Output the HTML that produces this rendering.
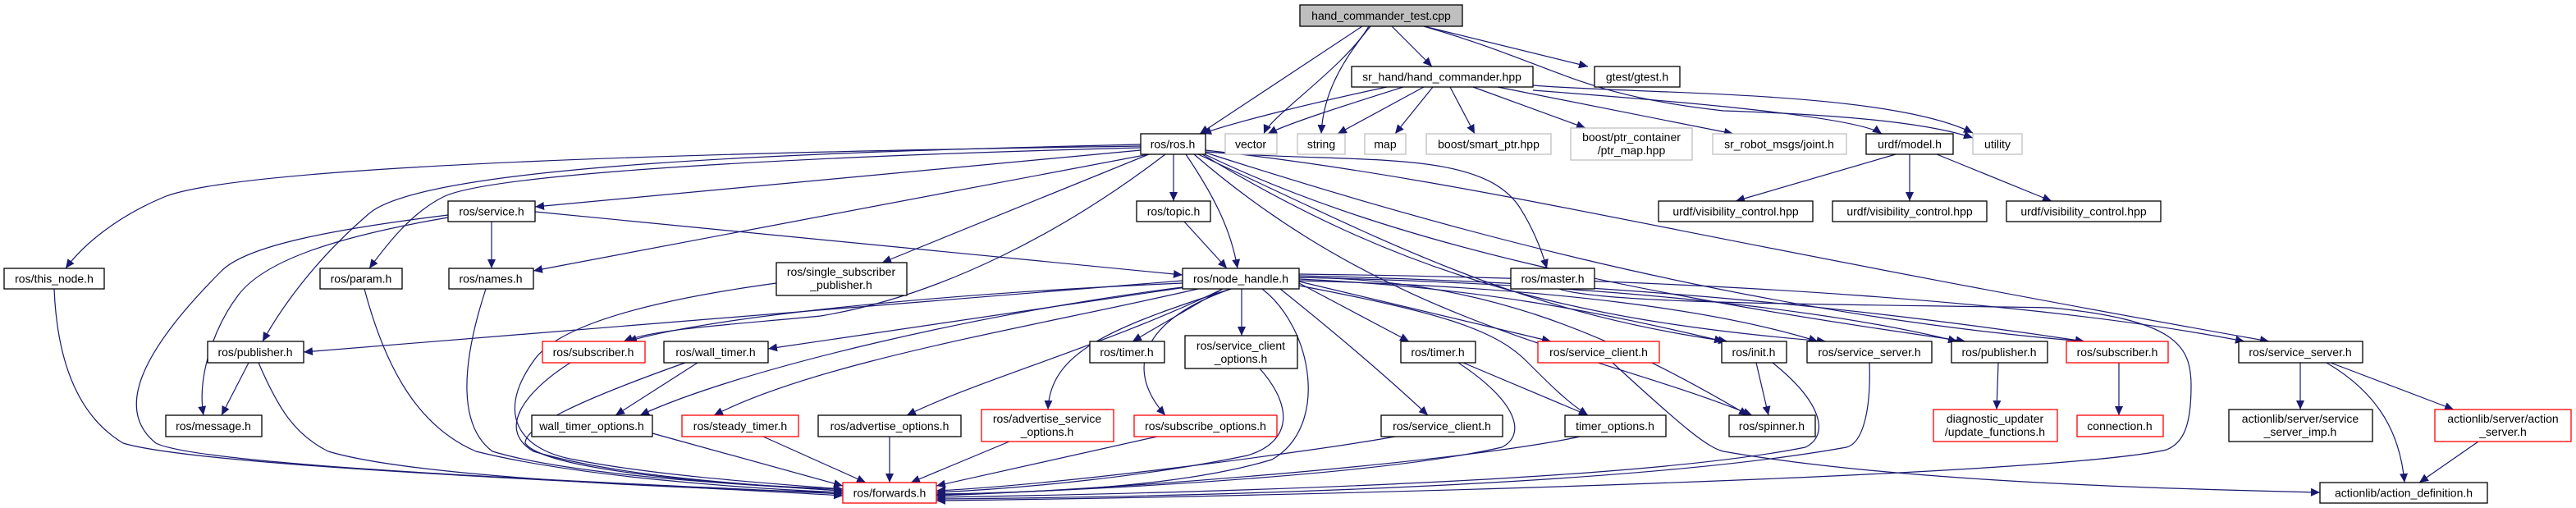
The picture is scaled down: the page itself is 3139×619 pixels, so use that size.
<!DOCTYPE html>
<html><head><meta charset="utf-8"><style>
html,body{margin:0;padding:0;background:#fff;}
svg{display:block}
text{font-family:"Liberation Sans",sans-serif;font-size:14px;fill:#000;text-anchor:middle;dominant-baseline:central}
.b{fill:#fff;stroke:#000;stroke-width:1.3}
.g{fill:#fff;stroke:#bfbfbf;stroke-width:1.3}
.r{fill:#fff;stroke:#ff0000;stroke-width:1.3}
.t{fill:#bfbfbf;stroke:#000;stroke-width:1.3}
path.e{fill:none;stroke:#191970;stroke-width:1.2;marker-end:url(#a)}
</style></head><body>
<svg width="3139" height="619" viewBox="0 0 3139 619" xmlns="http://www.w3.org/2000/svg">
<defs><marker id="a" markerUnits="userSpaceOnUse" markerWidth="12" markerHeight="10" refX="11" refY="5" orient="auto"><path d="M0,0 L11,5 L0,10 z" fill="#191970"/></marker></defs>
<g>
<path class="e" d="M1660,32 L1462,163"/>
<path class="e" d="M1668,32 C1640,80 1550,140 1540,163"/>
<path class="e" d="M1670,32 C1630,80 1612,120 1610,163"/>
<path class="e" d="M1696,32 L1745,81"/>
<path class="e" d="M1735,32 L1935,81"/>
<path class="e" d="M1735,32 C1900,80 1920,115 2100,135 C2250,140 2350,150 2404,168"/>
<path class="e" d="M1690,106 C1600,125 1500,150 1465,163"/>
<path class="e" d="M1710,106 C1650,125 1570,150 1545,163"/>
<path class="e" d="M1735,106 L1630,163"/>
<path class="e" d="M1746,106 L1700,163"/>
<path class="e" d="M1767,106 L1797,163"/>
<path class="e" d="M1795,106 L1932,156"/>
<path class="e" d="M1825,106 L2112,163"/>
<path class="e" d="M1868,110 C2000,120 2260,140 2293,163"/>
<path class="e" d="M1868,104 C2000,115 2300,110 2404,162"/>
<path class="e" d="M1390,178 C900,185 300,200 200,240 C140,265 100,300 80,327"/>
<path class="e" d="M1390,183 L652,252"/>
<path class="e" d="M1390,180 C1000,190 600,210 540,240 C500,260 470,300 450,327"/>
<path class="e" d="M1400,188 L650,330"/>
<path class="e" d="M1390,176 C1000,185 520,200 450,260 C380,320 340,380 320,416"/>
<path class="e" d="M1420,188 C1300,280 1150,360 1000,385 C900,395 800,400 760,416"/>
<path class="e" d="M1400,188 L1075,320"/>
<path class="e" d="M1430,188 L1430,245"/>
<path class="e" d="M1445,188 C1480,240 1500,280 1508,327"/>
<path class="e" d="M1470,185 C1650,200 1800,180 1850,250 C1870,280 1880,310 1885,327"/>
<path class="e" d="M1460,188 C1700,300 1850,380 2105,416"/>
<path class="e" d="M1455,188 C1700,400 1950,430 2135,506"/>
<path class="e" d="M1465,188 C1700,330 1900,390 2225,416"/>
<path class="e" d="M1468,188 C1700,300 2000,360 2395,416"/>
<path class="e" d="M1469,186 C1700,260 2100,380 2540,416"/>
<path class="e" d="M1469,183 C1800,220 2000,280 2765,416"/>
<path class="e" d="M599,270 L599,327"/>
<path class="e" d="M652,258 L1441,335"/>
<path class="e" d="M546,265 C400,290 320,320 290,360 C260,400 240,460 248,506"/>
<path class="e" d="M546,262 C400,280 300,300 270,330 C170,430 140,500 190,540 C250,570 800,590 1027,602"/>
<path class="e" d="M66,352 C70,450 100,510 150,540 C250,570 800,590 1027,604"/>
<path class="e" d="M444,352 C470,450 510,520 580,550 C700,580 900,595 1027,600"/>
<path class="e" d="M592,352 C560,450 560,520 600,550 C700,580 900,590 1027,598"/>
<path class="e" d="M303,442 L270,506"/>
<path class="e" d="M315,442 C340,500 360,530 400,550 C500,580 800,595 1027,600"/>
<path class="e" d="M695,442 C650,470 600,520 650,550 C750,580 900,590 1027,598"/>
<path class="e" d="M946,345 C800,365 680,395 650,440 C600,510 640,550 700,560 C800,580 950,590 1027,596"/>
<path class="e" d="M1443,270 L1495,327"/>
<path class="e" d="M1441,342 L370,429"/>
<path class="e" d="M1441,345 C1100,360 850,390 765,416"/>
<path class="e" d="M1445,350 L936,425"/>
<path class="e" d="M1460,352 C1250,400 1000,440 870,506"/>
<path class="e" d="M1490,352 C1350,420 1200,460 1105,506"/>
<path class="e" d="M1500,352 C1350,400 1280,430 1277,499"/>
<path class="e" d="M1500,352 C1390,390 1370,450 1420,506"/>
<path class="e" d="M1490,352 L1380,416"/>
<path class="e" d="M1513,352 L1513,409"/>
<path class="e" d="M1538,352 C1600,400 1620,520 1550,560 C1450,590 1300,600 1141,602"/>
<path class="e" d="M1560,352 C1620,400 1680,450 1740,506"/>
<path class="e" d="M1583,345 L1717,416"/>
<path class="e" d="M1583,348 C1750,380 1820,400 1860,440 C1890,470 1910,490 1935,506"/>
<path class="e" d="M1583,343 L1890,416"/>
<path class="e" d="M1583,340 C1800,350 1950,380 2100,416"/>
<path class="e" d="M1583,338 C1800,340 1950,400 2130,506"/>
<path class="e" d="M1583,342 C1900,350 2100,380 2215,416"/>
<path class="e" d="M1583,338 C1900,345 2200,370 2385,416"/>
<path class="e" d="M1583,336 C2000,345 2300,380 2540,416"/>
<path class="e" d="M1583,334 C2100,340 2500,370 2735,416"/>
<path class="e" d="M1441,350 C1200,380 900,450 780,506"/>
<path class="e" d="M850,442 L750,506"/>
<path class="e" d="M835,442 C700,490 640,520 640,540 C660,570 850,590 1027,596"/>
<path class="e" d="M795,528 L1027,592"/>
<path class="e" d="M930,532 L1055,588"/>
<path class="e" d="M1084,532 L1084,588"/>
<path class="e" d="M1230,538 L1110,588"/>
<path class="e" d="M1410,532 L1141,592"/>
<path class="e" d="M1535,449 C1580,500 1570,540 1520,555 C1400,580 1250,595 1141,600"/>
<path class="e" d="M1783,442 L1935,506"/>
<path class="e" d="M1777,442 C1850,490 1860,530 1830,545 C1700,575 1400,595 1141,603"/>
<path class="e" d="M1700,532 C1600,550 1300,590 1141,598"/>
<path class="e" d="M1925,532 C1800,560 1400,595 1141,604"/>
<path class="e" d="M1965,442 C2050,520 2080,545 2100,550 C2300,585 2600,595 2827,600"/>
<path class="e" d="M2140,442 L2155,506"/>
<path class="e" d="M2160,442 C2220,490 2230,530 2200,545 C2000,585 1500,600 1141,606"/>
<path class="e" d="M2278,442 C2280,500 2270,540 2250,545 C2000,590 1500,605 1141,608"/>
<path class="e" d="M2435,442 L2433,499"/>
<path class="e" d="M2582,442 L2582,506"/>
<path class="e" d="M1900,352 C1950,370 2200,370 2500,375 C2650,390 2670,420 2670,470 C2670,520 2660,540 2640,548 C2500,580 1600,605 1141,610"/>
<path class="e" d="M2803,442 L2803,499"/>
<path class="e" d="M2835,442 C2900,480 2925,530 2930,588"/>
<path class="e" d="M2840,442 L2990,499"/>
<path class="e" d="M3020,538 L2948,588"/>
<path class="e" d="M2310,188 L2115,245"/>
<path class="e" d="M2327,188 L2327,245"/>
<path class="e" d="M2360,188 L2500,245"/>
</g>
<g>
<rect class="t" x="1584" y="6" width="198" height="26"/><text x="1683" y="19">hand_commander_test.cpp</text>
<rect class="b" x="1647" y="81" width="221" height="25"/><text x="1757" y="93.5">sr_hand/hand_commander.hpp</text>
<rect class="b" x="1943" y="81" width="104" height="25"/><text x="1995" y="93.5">gtest/gtest.h</text>
<rect class="b" x="1390" y="163" width="79" height="25"/><text x="1429" y="175.5">ros/ros.h</text>
<rect class="g" x="1493" y="163" width="63" height="25"/><text x="1524" y="175.5">vector</text>
<rect class="g" x="1581" y="163" width="58" height="25"/><text x="1610" y="175.5">string</text>
<rect class="g" x="1663" y="163" width="50" height="25"/><text x="1688" y="175.5">map</text>
<rect class="g" x="1738" y="163" width="152" height="25"/><text x="1814" y="175.5">boost/smart_ptr.hpp</text>
<rect class="g" x="1914" y="156" width="148" height="39"/><text x="1988" y="167">boost/ptr_container</text><text x="1988" y="183">/ptr_map.hpp</text>
<rect class="g" x="2087" y="163" width="163" height="25"/><text x="2168" y="175.5">sr_robot_msgs/joint.h</text>
<rect class="b" x="2274" y="163" width="106" height="25"/><text x="2327" y="175.5">urdf/model.h</text>
<rect class="g" x="2404" y="163" width="60" height="25"/><text x="2434" y="175.5">utility</text>
<rect class="b" x="546" y="245" width="106" height="25"/><text x="599" y="257.5">ros/service.h</text>
<rect class="b" x="1385" y="245" width="90" height="25"/><text x="1430" y="257.5">ros/topic.h</text>
<rect class="b" x="2021" y="245" width="188" height="25"/><text x="2115" y="257.5">urdf/visibility_control.hpp</text>
<rect class="b" x="2233" y="245" width="188" height="25"/><text x="2327" y="257.5">urdf/visibility_control.hpp</text>
<rect class="b" x="2445" y="245" width="188" height="25"/><text x="2539" y="257.5">urdf/visibility_control.hpp</text>
<rect class="b" x="5" y="327" width="122" height="25"/><text x="66" y="339.5">ros/this_node.h</text>
<rect class="b" x="390" y="327" width="100" height="25"/><text x="440" y="339.5">ros/param.h</text>
<rect class="b" x="547" y="327" width="103" height="25"/><text x="598" y="339.5">ros/names.h</text>
<rect class="b" x="946" y="320" width="159" height="40"/><text x="1025" y="331">ros/single_subscriber</text><text x="1025" y="347">_publisher.h</text>
<rect class="b" x="1441" y="327" width="142" height="25"/><text x="1512" y="339.5">ros/node_handle.h</text>
<rect class="b" x="1841" y="327" width="102" height="25"/><text x="1892" y="339.5">ros/master.h</text>
<rect class="b" x="253" y="416" width="117" height="26"/><text x="311" y="429">ros/publisher.h</text>
<rect class="r" x="661" y="416" width="125" height="26"/><text x="723" y="429">ros/subscriber.h</text>
<rect class="b" x="809" y="416" width="127" height="26"/><text x="872" y="429">ros/wall_timer.h</text>
<rect class="b" x="1328" y="416" width="91" height="26"/><text x="1373" y="429">ros/timer.h</text>
<rect class="b" x="1444" y="409" width="137" height="40"/><text x="1512" y="421">ros/service_client</text><text x="1512" y="437">_options.h</text>
<rect class="b" x="1707" y="416" width="91" height="26"/><text x="1752" y="429">ros/timer.h</text>
<rect class="r" x="1874" y="416" width="148" height="26"/><text x="1948" y="429">ros/service_client.h</text>
<rect class="b" x="2098" y="416" width="79" height="26"/><text x="2137" y="429">ros/init.h</text>
<rect class="b" x="2202" y="416" width="152" height="26"/><text x="2278" y="429">ros/service_server.h</text>
<rect class="b" x="2378" y="416" width="117" height="26"/><text x="2436" y="429">ros/publisher.h</text>
<rect class="r" x="2518" y="416" width="124" height="26"/><text x="2580" y="429">ros/subscriber.h</text>
<rect class="b" x="2728" y="416" width="151" height="26"/><text x="2803" y="429">ros/service_server.h</text>
<rect class="b" x="202" y="506" width="117" height="26"/><text x="260" y="519">ros/message.h</text>
<rect class="b" x="648" y="506" width="147" height="26"/><text x="721" y="519">wall_timer_options.h</text>
<rect class="r" x="831" y="506" width="142" height="26"/><text x="902" y="519">ros/steady_timer.h</text>
<rect class="b" x="997" y="506" width="174" height="26"/><text x="1084" y="519">ros/advertise_options.h</text>
<rect class="r" x="1196" y="499" width="161" height="39"/><text x="1276" y="510">ros/advertise_service</text><text x="1276" y="526">_options.h</text>
<rect class="r" x="1382" y="506" width="174" height="26"/><text x="1469" y="519">ros/subscribe_options.h</text>
<rect class="b" x="1683" y="506" width="148" height="26"/><text x="1757" y="519">ros/service_client.h</text>
<rect class="b" x="1907" y="506" width="123" height="26"/><text x="1968" y="519">timer_options.h</text>
<rect class="b" x="2107" y="506" width="105" height="26"/><text x="2159" y="519">ros/spinner.h</text>
<rect class="r" x="2356" y="499" width="151" height="39"/><text x="2431" y="510">diagnostic_updater</text><text x="2431" y="526">/update_functions.h</text>
<rect class="r" x="2531" y="506" width="105" height="26"/><text x="2583" y="519">connection.h</text>
<rect class="b" x="2716" y="499" width="175" height="39"/><text x="2803" y="510">actionlib/server/service</text><text x="2803" y="526">_server_imp.h</text>
<rect class="r" x="2967" y="499" width="166" height="39"/><text x="3050" y="510">actionlib/server/action</text><text x="3050" y="526">_server.h</text>
<rect class="r" x="1027" y="588" width="114" height="25"/><text x="1084" y="600.5">ros/forwards.h</text>
<rect class="b" x="2827" y="588" width="204" height="25"/><text x="2929" y="600.5">actionlib/action_definition.h</text>
</g>
</svg>
</body></html>
